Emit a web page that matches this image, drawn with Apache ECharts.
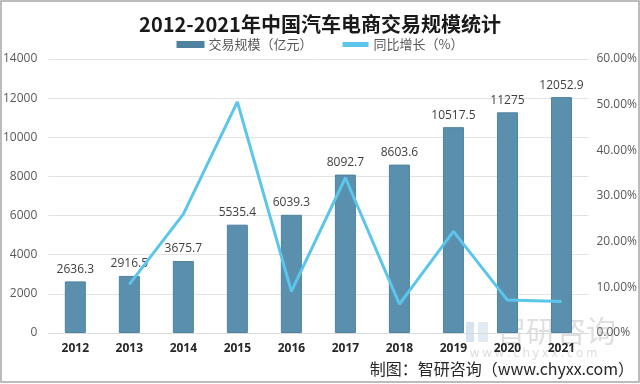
<!DOCTYPE html>
<html><head><meta charset="utf-8">
<script src="https://cdn.jsdelivr.net/npm/echarts@6/dist/echarts.min.js"></script>
<style>html,body{margin:0;padding:0;background:#fff}#c{width:640px;height:384px}</style>
</head><body><div id="c"></div>
<script>
const categories = ['2012','2013','2014','2015','2016','2017','2018','2019','2020','2021'];
const scaleValues = [2636.3, 2916.5, 3675.7, 5535.4, 6039.3, 8092.7, 8603.6, 10517.5, 11275, 12052.9];
const growthValues = [null, 10.63, 26.03, 50.60, 9.10, 34.00, 6.31, 22.25, 7.20, 6.90];
const seriesNames = ['交易规模（亿元）', '同比增长（%）'];
const titleText = '2012-2021年中国汽车电商交易规模统计';
const sourceText = '制图：智研咨询（www.chyxx.com）';

const chart = echarts.init(document.getElementById('c'), null, {renderer: 'canvas'});
const font = '"Open Sans","Noto Sans CJK SC",sans-serif';
chart.setOption({
  animation: false,
  backgroundColor: '#fff',
  title: {
    text: titleText, left: 'center', top: 9,
    textStyle: {fontSize: 20, fontWeight: 'bold', color: '#1a1a1a', fontFamily: '"Noto Sans CJK SC",sans-serif'}
  },
  legend: {
    top: 33, left: 'center', itemGap: 30, itemWidth: 26, itemHeight: 5,
    textStyle: {fontSize: 13, color: '#595959', fontFamily: '"Noto Sans CJK SC",sans-serif'},
    data: [{name: seriesNames[0], icon: 'rect', itemStyle: {color: '#4F829F'}}, {name: seriesNames[1], icon: 'rect', itemStyle: {color: '#5BC5EC'}}]
  },
  grid: {left: 48, right: 50, top: 59, bottom: 51},
  xAxis: {
    type: 'category', data: categories,
    axisLine: {lineStyle: {color: '#d9d9d9'}}, axisTick: {show: false},
    axisLabel: {fontSize: 12, fontWeight: 'bold', color: '#262626', margin: 10, fontFamily: font}
  },
  yAxis: [{
    type: 'value', min: 0, max: 14000, interval: 2000,
    axisLine: {show: false}, axisTick: {show: false},
    splitLine: {lineStyle: {color: '#e3e3e3'}},
    axisLabel: {fontSize: 12, color: '#595959', margin: 11, fontFamily: font, formatter: v => String(v)}
  }, {
    type: 'value', min: 0, max: 60, interval: 10,
    axisLine: {show: false}, axisTick: {show: false}, splitLine: {show: false},
    axisLabel: {fontSize: 12, color: '#595959', margin: 8, fontFamily: font,
      formatter: v => v.toFixed(2) + '%'}
  }],
  series: [{
    name: seriesNames[0], type: 'bar', data: scaleValues, barWidth: 21,
    itemStyle: {color: '#5A8FAD', borderColor: '#4F829F', borderWidth: 1},
    label: {show: true, position: 'top', distance: 6, fontSize: 12, color: '#404040', fontFamily: font}
  }, {
    name: seriesNames[1], type: 'line', yAxisIndex: 1, data: growthValues,
    symbol: 'none', lineStyle: {color: '#5BC5EC', width: 3}, itemStyle: {color: '#5BC5EC'}
  }],
  graphic: [
    {type: 'rect', shape: {x: 1, y: 1, width: 638, height: 381}, style: {fill: 'none', stroke: '#a6a6a6', lineWidth: 1.5}, silent: true},
    {type: 'rect', shape: {x: 466, y: 322, width: 8, height: 20}, style: {fill: 'rgba(160,185,215,0.4)'}, silent: true},
    {type: 'rect', shape: {x: 478, y: 322, width: 10, height: 20}, style: {fill: 'rgba(160,185,215,0.3)'}, silent: true},
    {type: 'text', left: 496, top: 316, style: {text: '智研咨询', fontSize: 30, fill: 'rgba(150,150,150,0.3)', fontFamily: '"Noto Sans CJK SC",sans-serif'}, silent: true},
    {type: 'text', left: 470, top: 348, style: {text: 'w w w . c h y x x . c o m', fontSize: 12, fill: 'rgba(150,150,150,0.35)', fontFamily: font}, silent: true},
    {type: 'text', right: 6, top: 361, style: {text: sourceText, fontSize: 16, fill: '#262626', fontFamily: '"Noto Sans CJK SC",sans-serif'}}
  ]
});
</script></body></html>
